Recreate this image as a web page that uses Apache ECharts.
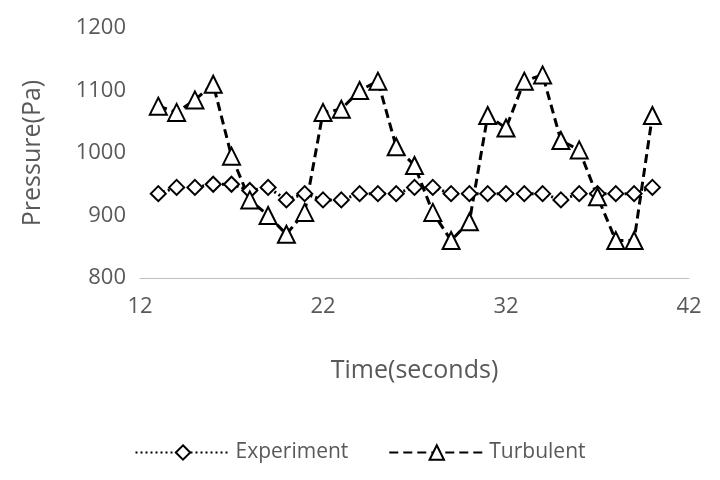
<!DOCTYPE html>
<html><head><meta charset="utf-8">
<script src="https://cdn.jsdelivr.net/npm/echarts@6/dist/echarts.min.js"></script>
<style>html,body{margin:0;background:#fff}#c{width:720px;height:480px}</style>
</head><body><div id="c"></div>
<script>
const times = [13,14,15,16,17,18,19,20,21,22,23,24,25,26,27,28,29,30,31,32,33,34,35,36,37,38,39,40];
const experiment = [935,945,945,950,950,940,945,925,935,925,925,935,935,935,945,945,935,935,935,935,935,935,925,935,935,935,935,945];
const turbulent = [1075,1065,1085,1110,995,925,900,870,905,1065,1070,1100,1115,1010,980,905,860,890,1060,1040,1115,1125,1020,1005,930,860,860,1060];

const chart = echarts.init(document.getElementById('c'));
const txt = { color: '#595959', fontFamily: 'Open Sans', fontSize: 22 };
chart.setOption({
  animation: false,
  grid: { left: 140, right: 31, top: 28, bottom: 202 },
  legend: {
    bottom: 12, itemGap: 40, itemWidth: 95, itemHeight: 18,
    textStyle: { ...txt, fontSize: 21 },
    data: ['Experiment', 'Turbulent']
  },
  xAxis: {
    type: 'value', min: 12, max: 42, interval: 10,
    name: 'Time(seconds)', nameLocation: 'middle', nameGap: 80, nameTextStyle: { ...txt, fontSize: 25 },
    axisLine: { lineStyle: { color: '#bfbfbf' } }, axisTick: { show: false },
    axisLabel: { ...txt, margin: 18 }, splitLine: { show: false }
  },
  yAxis: {
    type: 'value', min: 800, max: 1200, interval: 100,
    name: 'Pressure(Pa)', nameLocation: 'middle', nameGap: 95, nameTextStyle: { ...txt, fontSize: 25 },
    axisLine: { show: false }, axisTick: { show: false },
    axisLabel: { ...txt, margin: 14, formatter: v => String(v) }, splitLine: { show: false }
  },
  series: [
    {
      name: 'Experiment', type: 'line', data: times.map((t, i) => [t, experiment[i]]),
      symbol: 'diamond', symbolSize: 15,
      lineStyle: { color: '#000', width: 3, type: [2, 3] },
      itemStyle: { color: '#fff', borderColor: '#000', borderWidth: 2 }
    },
    {
      name: 'Turbulent', type: 'line', data: times.map((t, i) => [t, turbulent[i]]),
      symbol: 'triangle', symbolSize: 17,
      lineStyle: { color: '#000', width: 3, type: [9, 5] },
      itemStyle: { color: '#fff', borderColor: '#000', borderWidth: 2 }
    }
  ]
});
</script></body></html>
